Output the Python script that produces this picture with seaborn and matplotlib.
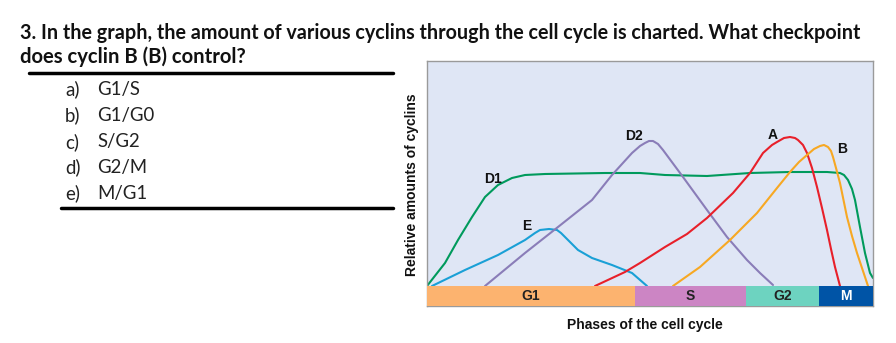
import matplotlib
matplotlib.use("Agg")
import matplotlib.pyplot as plt
import seaborn as sns
import pandas as pd

# ---- data (x: position along the cycle, y: relative amount) ----
phase_names = ["G1", "S", "G2", "M"]
phase_edges = [0, 208, 319, 392, 446]
phase_colors = ["#fcb36f", "#cc85c4", "#6dd3c0", "#0054a6"]
phase_text_colors = ["#222222", "#222222", "#222222", "#ffffff"]

d1_x = [0, 18, 31, 45, 58, 71, 85, 98, 118, 178, 213, 238, 280, 323, 363, 400, 413, 417, 421, 425, 428, 433, 438, 443, 446]
d1_y = [0, 23, 46, 69, 89, 101, 108, 111, 112, 113, 113, 111, 110, 113, 114, 114, 113, 111, 106, 97, 86, 59, 33, 13, 8]

e_x = [5, 38, 71, 98, 108, 113, 122, 130, 134, 138, 151, 165, 185, 205, 220]
e_y = [0, 16, 31, 46, 53, 56, 57, 56, 53, 49, 36, 28, 21, 13, 0]

d2_x = [58, 98, 131, 165, 185, 205, 213, 218, 222, 226, 231, 236, 256, 280, 300, 320, 333, 346]
d2_y = [0, 33, 59, 86, 111, 133, 140, 143, 145, 145, 142, 136, 109, 76, 49, 26, 13, 1]

a_x = [168, 198, 213, 238, 260, 280, 306, 323, 336, 345, 350, 357, 363, 368, 371, 376, 380, 385, 390, 395, 400, 404, 408, 413]
a_y = [0, 14, 23, 39, 52, 68, 93, 113, 133, 141, 144, 148, 149, 148, 146, 141, 133, 118, 99, 78, 56, 37, 19, 0]

b_x = [246, 273, 303, 330, 350, 363, 372, 380, 387, 393, 397, 401, 404, 406, 409, 413, 420, 425, 430, 436, 441]
b_y = [0, 19, 46, 73, 98, 114, 124, 131, 137, 140, 141, 139, 135, 129, 118, 103, 69, 50, 33, 15, 0]

curve_names = ["D1", "E", "D2", "A", "B"]
curve_colors = ["#009a5c", "#1aa0d6", "#8a7db8", "#e8202a", "#f7a823"]
label_pos = [(66, 107), (100, 60), (207, 150), (346, 151), (415, 137)]

question_l1 = "3. In the graph, the amount of various cyclins through the cell cycle is charted. What checkpoint"
question_l2 = "does cyclin B (B) control?"
option_letters = ["a)", "b)", "c)", "d)", "e)"]
option_texts = ["G1/S", "G1/G0", "S/G2", "G2/M", "M/G1"]

frames = []
for name, xs, ys in zip(curve_names, [d1_x, e_x, d2_x, a_x, b_x], [d1_y, e_y, d2_y, a_y, b_y]):
    frames.append(pd.DataFrame({"x": xs, "y": ys, "cyclin": name}))
df = pd.concat(frames, ignore_index=True)

sns.set_style("white")
plt.rcParams["font.family"] = ["Liberation Sans", "DejaVu Sans"]

fig = plt.figure(figsize=(8.96, 3.43), dpi=100)
ax = fig.add_axes([427 / 896, 1 - 306 / 343, 446 / 896, 245 / 343])
ax.set_facecolor("#dfe6f5")

sns.lineplot(data=df, x="x", y="y", hue="cyclin", palette=dict(zip(curve_names, curve_colors)),
             sort=False, estimator=None, linewidth=1.5, legend=False, ax=ax)
for ln in ax.lines:
    ln.set_solid_joinstyle("round")

for i, name in enumerate(phase_names):
    s, e = phase_edges[i], phase_edges[i + 1]
    ax.barh(-10, e - s, left=s, height=20, color=phase_colors[i], edgecolor="none", zorder=3)
    ax.text((s + e) / 2, -10, name, ha="center", va="center", fontsize=10, fontweight="bold",
            color=phase_text_colors[i], zorder=4)

for name, (lx, ly) in zip(curve_names, label_pos):
    ax.text(lx, ly, name, ha="center", va="center", fontsize=10, fontweight="bold", color="#111111")

ax.set_xlim(0, 446)
ax.set_ylim(-20, 225)
ax.set_xticks([])
ax.set_yticks([])
ax.set_xlabel("")
ax.set_ylabel("")
for sp in ax.spines.values():
    sp.set_color("#9a9a9a")
    sp.set_linewidth(1.0)

fig.text(412 / 896, 1 - 185 / 343, "Relative amounts of cyclins", rotation=90, ha="center", va="center",
         fontsize=10, fontweight="bold", color="#111111")
fig.text(645 / 896, 1 - 325 / 343, "Phases of the cell cycle", ha="center", va="center",
         fontsize=10, fontweight="bold", color="#111111")

qfont = ["Lato", "DejaVu Sans"]
fig.text(20 / 896, 1 - 33 / 343, question_l1, ha="left", va="center", fontsize=14.2,
         fontweight="bold", family=qfont, color="#111111")
fig.text(20 / 896, 1 - 57 / 343, question_l2, ha="left", va="center", fontsize=14.6,
         fontweight="bold", family=qfont, color="#111111")

fig.add_artist(plt.Line2D([29 / 896, 393 / 896], [1 - 73 / 343, 1 - 73 / 343], color="black", linewidth=2.5))
fig.add_artist(plt.Line2D([61 / 896, 393 / 896], [1 - 208 / 343, 1 - 208 / 343], color="black", linewidth=2.5))

opt_y = [89, 115, 142, 167, 193]
for letter, txt, yy in zip(option_letters, option_texts, opt_y):
    fig.text(65 / 896, 1 - yy / 343, letter, ha="left", va="center", fontsize=13.4, family=qfont, color="#222222")
    fig.text(97 / 896, 1 - yy / 343, txt, ha="left", va="center", fontsize=13.4, family=qfont, color="#222222")

fig.savefig("out.png", dpi=100)
